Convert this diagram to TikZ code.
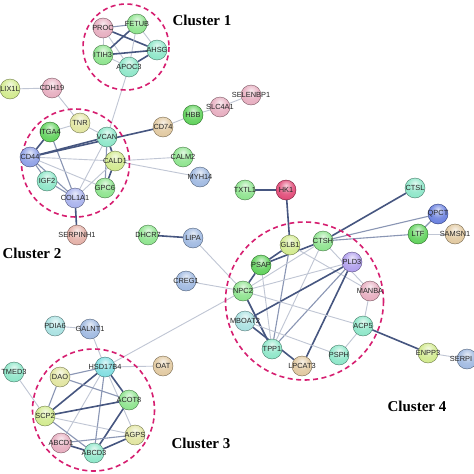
\documentclass[tikz,border=0pt]{standalone}
\usepackage{fontspec}
\setmainfont{Liberation Serif}
\newfontfamily\genefont{Liberation Sans}
\usetikzlibrary{backgrounds}
\definecolor{lightedge}{RGB}{192,198,212}
\definecolor{mededge}{RGB}{138,150,180}
\definecolor{darkedge}{RGB}{70,86,128}
\definecolor{clpink}{RGB}{214,30,112}
\definecolor{cpink}{RGB}{228,165,185}
\definecolor{cgreen}{RGB}{130,225,130}
\definecolor{cdgreen}{RGB}{80,205,75}
\definecolor{caqua}{RGB}{130,228,195}
\definecolor{cyg}{RGB}{205,232,130}
\definecolor{cyellow}{RGB}{222,226,150}
\definecolor{ctan}{RGB}{222,195,150}
\definecolor{cblue}{RGB}{130,150,228}
\definecolor{clblue}{RGB}{150,178,222}
\definecolor{clav}{RGB}{160,170,235}
\definecolor{csalmon}{RGB}{225,168,158}
\definecolor{ccrimson}{RGB}{222,55,105}
\definecolor{cpurple}{RGB}{168,148,235}
\definecolor{cqpct}{RGB}{90,115,220}
\definecolor{ccyan}{RGB}{115,218,222}
\definecolor{cpaqua}{RGB}{160,222,222}
\colorlet{genecol}{cgreen}
\pgfdeclareradialshading[genecol]{glossy}{\pgfpoint{0bp}{12bp}}{%
  color(0bp)=(genecol!25!white); color(18bp)=(genecol!80!white);
  color(40bp)=(genecol); color(62bp)=(genecol!78!black)}
\newcommand\gn[4]{\node[gene=#4, label={[gl]center:#1}] (#1) at (#2,#3) {};}
\newcommand\ed[3]{\draw[#1] (#2) -- (#3);}
\begin{document}
\begin{tikzpicture}[x=1pt,y=-1pt,
  gene/.style={circle, minimum size=20pt, inner sep=0pt, draw=#1!55!black, line width=0.4pt,
    /utils/exec={\colorlet{genecol}{#1}}, shading=glossy},
  gl/.style={font=\genefont\fontsize{7.4}{8}\selectfont, text=black!85, inner sep=0pt},
  ea/.style={draw=lightedge, line width=0.9pt},
  eb/.style={draw=mededge, line width=1.1pt},
  ec/.style={draw=darkedge, line width=1.6pt},
  cluster/.style={draw=clpink, line width=1.6pt, dash pattern=on 5pt off 3.5pt},
  cl/.style={font=\bfseries\fontsize{15}{17}\selectfont, text=black, inner sep=0pt}]
\useasboundingbox (0,0) rectangle (474,474);
% cluster circles
\draw[cluster] (126,47) circle[radius=43];
\draw[cluster] (75.5,163) circle[radius=54];
\draw[cluster] (93.5,410) circle[radius=61];
\draw[cluster] (304.5,301) circle[radius=79];
% cluster 1
\gn{PROC}{103}{28}{cpink}
\gn{FETUB}{137}{24}{cgreen}
\gn{ITIH3}{103}{55}{cgreen}
\gn{AHSG}{157}{50}{caqua}
\gn{APOC3}{129}{67}{caqua}
% cluster 2
\gn{LIX1L}{10}{89}{cyg}
\gn{CDH19}{52}{88}{cpink}
\gn{TNR}{80}{123}{cyellow}
\gn{ITGA4}{50}{132}{cdgreen}
\gn{VCAN}{107}{137}{caqua}
\gn{CD74}{163}{127}{ctan}
\gn{CD44}{30}{157}{cblue}
\gn{CALD1}{115}{161}{cyg}
\gn{IGF2}{47}{181}{caqua}
\gn{GPC6}{105}{188}{cgreen}
\gn{COL1A1}{75}{198}{clav}
\gn{SERPINH1}{77}{235}{csalmon}
\gn{DHCR7}{148}{235}{cgreen}
\gn{LIPA}{193}{238}{clblue}
\gn{CALM2}{183}{157}{cgreen}
\gn{MYH14}{200}{177}{clblue}
\gn{HBB}{193}{115}{cdgreen}
\gn{SLC4A1}{220}{107}{cpink}
\gn{SELENBP1}{251}{95}{cpink}
% cluster 4
\gn{TXTL1}{245}{190}{cgreen}
\gn{HK1}{286}{190}{ccrimson}
\gn{GLB1}{290}{245}{cyg}
\gn{CTSH}{323}{241}{cgreen}
\gn{PSAP}{261}{265}{cdgreen}
\gn{CTSL}{415}{188}{caqua}
\gn{QPCT}{438}{214}{cqpct}
\gn{LTF}{418}{234}{cdgreen}
\gn{SAMSN1}{455}{234}{ctan}
\gn{PLD3}{352}{262}{cpurple}
\gn{MANBA}{370}{291}{cpink}
\gn{NPC2}{243}{291}{cgreen}
\gn{MBOAT2}{245}{321}{cpaqua}
\gn{ACP5}{363}{326}{caqua}
\gn{TPP1}{272}{349}{caqua}
\gn{PSPH}{339}{355}{caqua}
\gn{LPCAT3}{302}{366}{ctan}
\gn{CREG1}{186}{281}{clblue}
\gn{ENPP3}{428}{353}{cyg}
\node[gene=clblue, label={[gl, xshift=-6pt]center:SERPI}] (SERPI) at (467,359) {};
% cluster 3
\gn{PDIA6}{55}{326}{cpaqua}
\gn{GALNT1}{90}{329}{clblue}
\gn{TMED3}{14}{372}{caqua}
\gn{HSD17B4}{105}{367}{ccyan}
\gn{OAT}{163}{366}{ctan}
\gn{DAO}{60}{377}{cyellow}
\gn{ACOT8}{129}{400}{cgreen}
\gn{SCP2}{45}{416}{cyg}
\gn{AGPS}{135}{435}{cyellow}
\gn{ABCD1}{61}{443}{cpink}
\gn{ABCD3}{94}{453}{caqua}
% labels
\node[cl] (L1) at (202,20) {Cluster 1};
\node[cl] (L2) at (32,253) {Cluster 2};
\node[cl] (L3) at (201,443) {Cluster 3};
\node[cl] (L4) at (417,406) {Cluster 4};
\begin{scope}[on background layer]
\fill[white] (0,0) rectangle (474,474);
% cluster 1 edges
\ed{eb}{PROC}{FETUB}
\ed{ea}{PROC}{ITIH3}
\ed{ec}{PROC}{AHSG}
\ed{ea}{PROC}{APOC3}
\ed{ec}{FETUB}{ITIH3}
\ed{ea}{FETUB}{AHSG}
\ed{ea}{FETUB}{APOC3}
\ed{ec}{ITIH3}{AHSG}
\ed{ea}{ITIH3}{APOC3}
\ed{ec}{AHSG}{APOC3}
\ed{ea}{APOC3}{VCAN}
% cluster 2 edges
\ed{ea}{LIX1L}{CDH19}
\ed{ea}{CDH19}{TNR}
\ed{ea}{TNR}{ITGA4}
\ed{ea}{TNR}{VCAN}
\ed{ec}{ITGA4}{CD44}
\ed{eb}{ITGA4}{COL1A1}
\ed{ec}{CD44}{VCAN}
\ed{ec}{CD44}{CD74}
\ed{ea}{CD44}{CALD1}
\ed{ea}{CD44}{GPC6}
\ed{eb}{CD44}{IGF2}
\ed{eb}{CD44}{COL1A1}
\ed{eb}{IGF2}{COL1A1}
\ed{ea}{VCAN}{COL1A1}
\ed{ec}{VCAN}{CALD1}
\ed{eb}{VCAN}{GPC6}
\ed{ec}{CALD1}{GPC6}
\ed{ea}{CALD1}{COL1A1}
\ed{ec}{COL1A1}{SERPINH1}
\ed{ea}{CALD1}{CALM2}
\ed{ea}{CALD1}{MYH14}
\ed{ea}{CD74}{HBB}
\ed{ea}{HBB}{SLC4A1}
\ed{ea}{SLC4A1}{SELENBP1}
\ed{ec}{DHCR7}{LIPA}
\ed{ea}{LIPA}{NPC2}
\ed{ea}{CREG1}{NPC2}
\ed{ec}{TXTL1}{HK1}
\ed{ec}{HK1}{GLB1}
% cluster 4 edges
\ed{ec}{GLB1}{PSAP}
\ed{ec}{PSAP}{CTSH}
\ed{ec}{CTSH}{CTSL}
\ed{eb}{CTSH}{QPCT}
\ed{eb}{CTSH}{LTF}
\ed{eb}{LTF}{QPCT}
\ed{ea}{LTF}{SAMSN1}
\ed{eb}{GLB1}{TPP1}
\ed{ea}{GLB1}{MANBA}
\ed{ec}{PSAP}{NPC2}
\ed{ea}{PSAP}{TPP1}
\ed{ea}{CTSH}{TPP1}
\ed{ea}{CTSH}{NPC2}
\ed{ea}{CTSH}{MANBA}
\ed{ea}{PLD3}{NPC2}
\ed{ec}{PLD3}{MBOAT2}
\ed{eb}{PLD3}{TPP1}
\ed{ec}{PLD3}{LPCAT3}
\ed{ec}{NPC2}{TPP1}
\ed{ea}{NPC2}{ACP5}
\ed{ec}{MBOAT2}{LPCAT3}
\ed{ea}{MBOAT2}{PSPH}
\ed{ea}{ACP5}{MANBA}
\ed{ea}{ACP5}{PSPH}
\ed{ec}{ACP5}{ENPP3}
\ed{ea}{ENPP3}{SERPI}
\ed{ea}{HSD17B4}{NPC2}
% cluster 3 edges
\ed{ea}{PDIA6}{GALNT1}
\ed{ea}{GALNT1}{HSD17B4}
\ed{ea}{TMED3}{SCP2}
\ed{ea}{HSD17B4}{OAT}
\ed{eb}{HSD17B4}{DAO}
\ed{ec}{HSD17B4}{SCP2}
\ed{ec}{HSD17B4}{ACOT8}
\ed{ea}{HSD17B4}{AGPS}
\ed{eb}{HSD17B4}{ABCD3}
\ed{ea}{HSD17B4}{ABCD1}
\ed{eb}{DAO}{ACOT8}
\ed{eb}{DAO}{SCP2}
\ed{ec}{SCP2}{ACOT8}
\ed{ea}{SCP2}{AGPS}
\ed{eb}{SCP2}{ABCD3}
\ed{ec}{ACOT8}{ABCD3}
\ed{eb}{AGPS}{ABCD1}
\ed{ec}{AGPS}{ABCD3}
\ed{ec}{ABCD1}{ABCD3}
\end{scope}
\end{tikzpicture}
\end{document}
